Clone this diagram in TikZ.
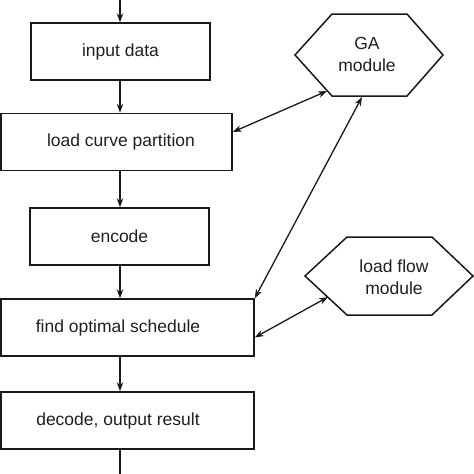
\documentclass[tikz,border=0pt]{standalone}
\usepackage{fontspec}
\setmainfont{Liberation Sans}
\usetikzlibrary{arrows.meta,calc}
\begin{document}
\begin{tikzpicture}[x=1pt,y=-1pt,
  stepbox/.style={draw=black!90, line width=1.5pt, inner sep=0pt, minimum height=57pt},
  lbl/.style={font=\fontsize{17.5}{22}\selectfont, text=black!88, inner sep=0pt, align=center},
  flow/.style={draw=black!90, line width=1.3pt, -{Stealth[length=9pt,width=6.5pt]}},
  both/.style={draw=black!90, line width=1.3pt, {Stealth[length=9pt,width=6.5pt]}-{Stealth[length=9pt,width=6.5pt]}},
  hexline/.style={draw=black!90, line width=1.5pt, line join=miter}]
\useasboundingbox (0,0) rectangle (474,474);
% process boxes
\node[stepbox, minimum width=179pt] (input) at (120.5,51.5) {};
\node[lbl] (inputt) at (120.5,51.5) {input data};
\node[stepbox, minimum width=231pt] (load) at (116.5,142) {};
\node[lbl] (loadt) at (121,142) {load curve partition};
\node[stepbox, minimum width=179pt] (encode) at (119.5,236.5) {};
\node[lbl] (encodet) at (119.5,236.5) {encode};
\node[stepbox, minimum width=253pt] (find) at (127.5,327.5) {};
\node[lbl] (findt) at (118,327.5) {find optimal schedule};
\node[stepbox, minimum width=253pt] (decode) at (127.5,420.5) {};
\node[lbl] (decodet) at (118,420.5) {decode, output result};
% main column
\coordinate (col) at (120,0);
\coordinate (bottom) at (120,474);
\draw[flow] (col) -- (input.north -| col);
\draw[flow] (input.south -| col) -- (load.north -| col);
\draw[flow] (load.south -| col) -- (encode.north -| col);
\draw[flow] (encode.south -| col) -- (find.north -| col);
\draw[flow] (find.south -| col) -- (decode.north -| col);
\draw[draw=black!90, line width=1.3pt] (decode.south -| col) -- (bottom);
% GA module
\coordinate (gac) at (369,55);
\draw[hexline] ($(gac)+(-74,0)$) -- ++(37,-41) -- ++(75,0) -- ++(36,41) -- ++(-36,41) -- ++(-75,0) -- cycle;
\node[lbl] (ga) at (367,54) {GA\\module};
\coordinate (ga-a) at (327,91);
\coordinate (ga-b) at (362,97);
% load flow module
\coordinate (lfc) at (389,276);
\draw[hexline] ($(lfc)+(-84,0)$) -- ++(42,-39) -- ++(85,0) -- ++(41,39) -- ++(-41,39) -- ++(-85,0) -- cycle;
\node[lbl] (lf) at (394,277) {load flow\\module};
\coordinate (lf-a) at (328,297);
% connectors
\draw[both] ($(load.east)+(0,-10)$) -- (ga-a);
\draw[both] (find.north east) -- (ga-b);
\draw[both] ($(find.east)+(0,10)$) -- (lf-a);
\end{tikzpicture}
\end{document}
